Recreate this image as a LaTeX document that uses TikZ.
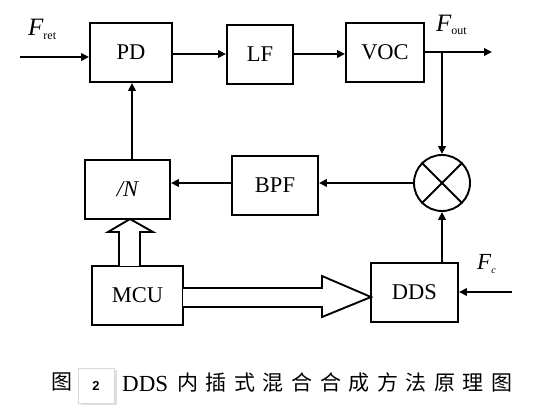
\documentclass[tikz,border=0pt]{standalone}
\usepackage{fontspec}
\setmainfont{Liberation Serif}
\newfontfamily\cjk[LetterSpace=36]{Noto Sans CJK SC}
\newfontfamily\cjkplain{Noto Sans CJK SC}
\newfontfamily\boxsans{Liberation Sans}
\usetikzlibrary{arrows.meta,shadows}
\begin{document}
\begin{tikzpicture}[x=1pt,y=-1pt,
  blk/.style={draw, line width=1.9pt, minimum height=59pt, inner sep=0pt, font=\fontsize{22.5}{22.5}\selectfont},
  conn/.style={line width=1.9pt, -{Triangle[length=8pt,width=7.5pt]}},
  wire/.style={line width=1.9pt},
  hollow/.style={draw, line width=1.9pt, fill=white, line join=miter},
  lbl/.style={inner sep=0pt, anchor=base west}]
\useasboundingbox (0,0) rectangle (552,406);

% blocks
\node[blk, minimum width=82pt] (pd)  at (131,52.5)  {PD};
\node[blk, minimum width=66pt] (lf)  at (260,54.5)  {LF};
\node[blk, minimum width=78pt] (voc) at (385,52.5)  {VOC};
\node[blk, minimum width=85pt] (nn)  at (127.5,189.5) {\itshape /N};
\node[blk, minimum width=86pt] (bpf) at (275,185.5) {BPF};
\node[blk, minimum width=91pt] (mcu) at (137.5,295.5) {MCU};
\node[blk, minimum width=87pt] (dds) at (414.5,292.5) {DDS};
\node[draw, circle, line width=1.9pt, minimum size=56pt, inner sep=0pt] (mix) at (442,183) {};
\draw[wire] (mix.north west) -- (mix.south east);
\draw[wire] (mix.north east) -- (mix.south west);

% free ends
\coordinate (fretin) at (20,57);
\coordinate (fout) at (492,52);
\coordinate (fcin) at (512,292);
\coordinate (br) at (442,52);

% connectors
\draw[conn] (fretin) -- (pd.west |- fretin);
\draw[conn] (pd.east |- 0,54) -- (lf.west |- 0,54);
\draw[conn] (lf.east |- 0,54) -- (voc.west |- 0,54);
\draw[conn] (voc.east |- fout) -- (fout);
\draw[conn] (br) -- (mix.north);
\draw[conn] (nn.north -| 132,0) -- (pd.south -| 132,0);
\draw[conn] (mix.west) -- (bpf.east |- mix.west);
\draw[conn] (bpf.west |- 0,183) -- (nn.east |- 0,183);
\draw[conn] (dds.north -| mix.south) -- (mix.south);
\draw[conn] (fcin) -- (dds.east |- fcin);

% hollow arrows
\draw[hollow] (119,266) -- (119,232) -- (108,232) -- (130,219) -- (153,232) -- (140,232) -- (140,266);
\draw[hollow] (183,288) -- (322,288) -- (322,276) -- (371,297) -- (322,317) -- (322,307) -- (183,307);

% labels
\node[lbl] (lfret) at (28,36) {{\fontsize{25}{25}\selectfont\itshape F}\raisebox{-4pt}{\fontsize{12}{12}\selectfont ret}};
\node[lbl] (lfout) at (436,32) {{\fontsize{25}{25}\selectfont\itshape F}\raisebox{-3pt}{\fontsize{12}{12}\selectfont out}};
\node[lbl] (lfc) at (477,270) {{\fontsize{23}{23}\selectfont\itshape F}\raisebox{-4pt}{\fontsize{10}{10}\selectfont\itshape c}};

% caption
\node[inner sep=0pt, font=\cjkplain\fontsize{21}{21}\selectfont] (ctu) at (62,382) {图};
\node[draw=black!15, fill=white, minimum width=36pt, minimum height=35pt, inner sep=0pt,
      drop shadow={opacity=0.25, shadow xshift=2pt, shadow yshift=-2pt}] (cbox) at (96.5,385.5) {};
\node[inner sep=0pt, font=\boxsans\bfseries\fontsize{13}{13}\selectfont] (cnum) at (96,386) {2};
\node[lbl, font=\fontsize{23}{23}\selectfont] (cdds) at (122,391) {DDS};
\node[lbl, font=\cjk\fontsize{21}{21}\selectfont] (ctext) at (177,390) {内插式混合合成方法原理图};
\end{tikzpicture}
\end{document}
